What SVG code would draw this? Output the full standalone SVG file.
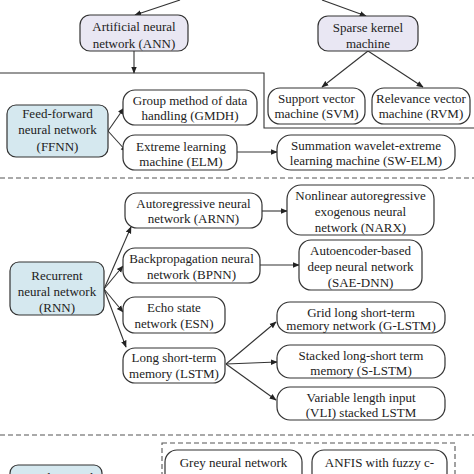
<svg xmlns="http://www.w3.org/2000/svg" width="474" height="474" viewBox="0 0 474 474">
<defs>
<marker id="ah" viewBox="0 0 10 10" refX="9" refY="5" markerWidth="7" markerHeight="7" orient="auto" markerUnits="userSpaceOnUse">
<path d="M0,1 L10,5 L0,9 z" fill="#222"/>
</marker>
<style>
.n{fill:#fff;stroke:#333;stroke-width:1.2}
.p{fill:#e9e7f3;stroke:#333;stroke-width:1.2}
.b{fill:#d5e8ef;stroke:#333;stroke-width:1.2}
text{font-family:"Liberation Serif","Times New Roman",serif;font-size:13px;fill:#222;text-anchor:middle}
.c line,.c path{stroke:#333;stroke-width:1.1;fill:none}
.a{marker-end:url(#ah)}
.d{stroke:#555;stroke-width:1.1;stroke-dasharray:5,3;fill:none}
</style>
</defs>
<rect width="474" height="474" fill="#fff"/>
<g class="c" id="connectors">
<line class="a" x1="180" y1="0" x2="135" y2="15"/>
<line class="a" x1="322" y1="0" x2="366" y2="16"/>
<line class="a" x1="134" y1="51" x2="134" y2="73"/>
<path d="M0,73 H264 V128 H474"/>
<line class="a" x1="368" y1="51" x2="322" y2="87"/>
<line class="a" x1="368" y1="51" x2="423" y2="87"/>
<line class="a" x1="108" y1="131" x2="124" y2="108"/>
<line class="a" x1="108" y1="131" x2="127" y2="152"/>
<line class="a" x1="237" y1="152" x2="277" y2="152"/>
<line class="a" x1="262" y1="211" x2="287" y2="211"/>
<line class="a" x1="260" y1="265" x2="299" y2="265"/>
<line class="a" x1="104" y1="289" x2="131" y2="227"/>
<line class="a" x1="104" y1="289" x2="123" y2="266"/>
<line class="a" x1="104" y1="289" x2="123" y2="312"/>
<line class="a" x1="104" y1="289" x2="126" y2="347"/>
<line class="a" x1="226" y1="364" x2="276" y2="322"/>
<line class="a" x1="226" y1="364" x2="277" y2="362"/>
<line class="a" x1="226" y1="364" x2="276" y2="400"/>
</g>
<line class="d" x1="0" y1="178" x2="474" y2="178"/>
<line class="d" x1="0" y1="435" x2="474" y2="435"/>
<rect class="d" x="162" y="443" width="293" height="60"/>
<g id="ann"><rect class="p" x="80" y="15" width="108" height="36" rx="10"/><text x="134" y="30.5">Artificial neural</text><text x="134" y="47.5">network (ANN)</text></g>
<g id="skm"><rect class="p" x="318" y="16" width="100" height="35" rx="10"/><text x="368" y="31.5">Sparse kernel</text><text x="368" y="47.5">machine</text></g>
<g id="svm"><rect class="n" x="268" y="88" width="97" height="36" rx="12"/><text x="316.5" y="102.5">Support vector</text><text x="316.5" y="117.5">machine (SVM)</text></g>
<g id="rvm"><rect class="n" x="372" y="88" width="98" height="36" rx="12"/><text x="421" y="102.5">Relevance vector</text><text x="421" y="117.5">machine (RVM)</text></g>
<g id="ffnn"><rect class="b" x="7" y="105" width="101" height="52" rx="9"/><text x="57.5" y="117.5">Feed-forward</text><text x="57.5" y="134">neural network</text><text x="57.5" y="150.5">(FFNN)</text></g>
<g id="gmdh"><rect class="n" x="123" y="90" width="134" height="35" rx="12"/><text x="190" y="104.5">Group method of data</text><text x="190" y="119.5">handling (GMDH)</text></g>
<g id="elm"><rect class="n" x="123" y="135" width="114" height="35" rx="12"/><text x="181" y="151">Extreme learning</text><text x="181" y="166">machine (ELM)</text></g>
<g id="swelm"><rect class="n" x="277" y="135" width="178" height="35" rx="14"/><text x="366" y="149.5">Summation wavelet-extreme</text><text x="366" y="164.5">learning machine (SW-ELM)</text></g>
<g id="arnn"><rect class="n" x="125" y="193" width="137" height="35" rx="12"/><text x="193.5" y="207.5">Autoregressive neural</text><text x="193.5" y="222.5">network (ARNN)</text></g>
<g id="narx"><rect class="n" x="287" y="185" width="147" height="50" rx="14"/><text x="360.5" y="199.5">Nonlinear autoregressive</text><text x="360.5" y="215.5">exogenous neural</text><text x="360.5" y="231.5">network (NARX)</text></g>
<g id="bpnn"><rect class="n" x="123" y="248" width="137" height="35" rx="12"/><text x="191.5" y="262.5">Backpropagation neural</text><text x="191.5" y="278.5">network (BPNN)</text></g>
<g id="saednn"><rect class="n" x="299" y="240" width="123" height="50" rx="12"/><text x="360.5" y="254.5">Autoencoder-based</text><text x="360.5" y="270.5">deep neural network</text><text x="360.5" y="286.5">(SAE-DNN)</text></g>
<g id="rnn"><rect class="b" x="10" y="262" width="94" height="53" rx="9"/><text x="57" y="279.5">Recurrent</text><text x="57" y="295.5">neural network</text><text x="57" y="311.5">(RNN)</text></g>
<g id="esn"><rect class="n" x="123" y="297" width="102" height="36" rx="12"/><text x="174" y="311.5">Echo state</text><text x="174" y="327.5">network (ESN)</text></g>
<g id="lstm"><rect class="n" x="123" y="348" width="102" height="35" rx="12"/><text x="174" y="361.5">Long short-term</text><text x="174" y="377.5">memory (LSTM)</text></g>
<g id="glstm"><rect class="n" x="277" y="302" width="168" height="31" rx="13"/><text x="361" y="316.5">Grid long short-term</text><text x="361" y="330">memory network (G-LSTM)</text></g>
<g id="slstm"><rect class="n" x="277" y="345" width="168" height="33" rx="13"/><text x="361" y="359.5">Stacked long-short term</text><text x="361" y="374.5">memory (S-LSTM)</text></g>
<g id="vli"><rect class="n" x="277" y="387" width="168" height="33" rx="13"/><text x="361" y="401.5">Variable length input</text><text x="361" y="416.5">(VLI) stacked LSTM</text></g>
<g id="gnnm"><rect class="n" x="165" y="450" width="137" height="45" rx="12"/><text x="233.5" y="466.5">Grey neural network</text><text x="233.5" y="482.5">model (GNNM)</text></g>
<g id="anfis"><rect class="n" x="312" y="450" width="135" height="45" rx="12"/><text x="379.5" y="466.5">ANFIS with fuzzy c-</text><text x="379.5" y="482.5">means (ANFIS-FCM)</text></g>
<g id="nn"><rect class="b" x="10" y="465" width="92" height="30" rx="8"/><text x="56" y="482">Neural network</text></g>
</svg>
